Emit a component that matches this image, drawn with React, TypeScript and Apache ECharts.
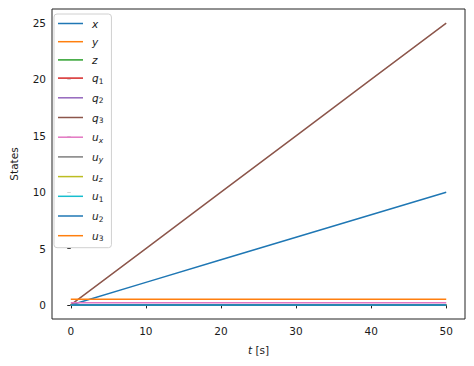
import React, { useEffect, useRef } from "react";
import * as echarts from "echarts";

const timeValues = [0, 10, 20, 30, 40, 50];
const seriesNames = ["x", "y", "z", "q1", "q2", "q3", "ux", "uy", "uz", "u1", "u2", "u3"];
const xValues = [0, 2, 4, 6, 8, 10];
const yValues = [0, 0, 0, 0, 0, 0];
const zValues = [0, 0, 0, 0, 0, 0];
const q1Values = [0, 0, 0, 0, 0, 0];
const q2Values = [0, 0, 0, 0, 0, 0];
const q3Values = [0, 5, 10, 15, 20, 25];
const uxValues = [0.2, 0.2, 0.2, 0.2, 0.2, 0.2];
const uyValues = [0, 0, 0, 0, 0, 0];
const uzValues = [0, 0, 0, 0, 0, 0];
const u1Values = [0, 0, 0, 0, 0, 0];
const u2Values = [0, 0, 0, 0, 0, 0];
const u3Values = [0.5, 0.5, 0.5, 0.5, 0.5, 0.5];
const xTicks = [0, 10, 20, 30, 40, 50];
const yTicks = [0, 5, 10, 15, 20, 25];

const allValues = [
  xValues, yValues, zValues, q1Values, q2Values, q3Values,
  uxValues, uyValues, uzValues, u1Values, u2Values, u3Values,
];
const colors = [
  "#1f77b4", "#ff7f0e", "#2ca02c", "#d62728", "#9467bd", "#8c564b",
  "#e377c2", "#7f7f7f", "#bcbd22", "#17becf", "#1f77b4", "#ff7f0e",
];

const FONT = "DejaVu Sans";
const TXT = "#1a1a1a";

export default function App() {
  const ref = useRef<HTMLDivElement>(null);
  useEffect(() => {
    if (!ref.current) return;
    const chart = echarts.init(ref.current, null, { renderer: "svg" });
    chart.setOption({
      animation: false,
      backgroundColor: "#fff",
      grid: {
        left: 48,
        right: 9,
        top: 9,
        bottom: 47,
        show: true,
        borderColor: "#222",
        borderWidth: 1,
        backgroundColor: "transparent",
      },
      legend: {
        orient: "vertical",
        left: 54,
        top: 14,
        padding: [4, 8, 5, 4],
        itemWidth: 25,
        itemHeight: 12,
        itemGap: 7.2,
        backgroundColor: "rgba(255,255,255,0.8)",
        borderColor: "#d0d0d0",
        borderWidth: 1,
        borderRadius: 3,
        icon: "path://M0,0L25,0L25,1.5L0,1.5Z",
        data: seriesNames.map((n, i) => ({ name: n, itemStyle: { color: colors[i] } })),
        formatter: (name: string) => {
          const main = name.charAt(0);
          const sub = name.slice(1);
          if (!sub) return `{m|${main}}`;
          return /\d/.test(sub) ? `{m|${main}}{d|${sub}}` : `{m|${main}}{s|${sub}}`;
        },
        textStyle: {
          padding: [0, 0, 0, 4],
          color: TXT,
          rich: {
            m: { fontFamily: FONT, fontStyle: "italic", fontSize: 10.5, color: TXT },
            s: { fontFamily: FONT, fontStyle: "italic", fontSize: 7.5, color: TXT, padding: [6, 0, 0, 0] },
            d: { fontFamily: FONT, fontSize: 7.5, color: TXT, padding: [6, 0, 0, 0] },
          },
        },
      },
      xAxis: {
        type: "value",
        min: -2.5,
        max: 52.5,
        name: "{i|t} [s]",
        nameLocation: "middle",
        nameGap: 25,
        nameTextStyle: {
          fontFamily: FONT,
          fontSize: 10.5,
          color: TXT,
          rich: { i: { fontFamily: FONT, fontStyle: "italic", fontSize: 10.5, color: TXT } },
        },
        splitLine: { show: false },
        axisLine: { show: false },
        axisTick: { show: true, customValues: xTicks, length: 3.5, lineStyle: { color: "#222" } },
        axisLabel: {
          customValues: xTicks,
          fontFamily: FONT,
          fontSize: 10.5,
          color: TXT,
          margin: 6,
        },
      },
      yAxis: {
        type: "value",
        min: -1.25,
        max: 26.25,
        name: "States",
        nameLocation: "middle",
        nameGap: 33,
        nameTextStyle: { fontFamily: FONT, fontSize: 10.5, color: TXT },
        splitLine: { show: false },
        axisLine: { show: false },
        axisTick: { show: true, customValues: yTicks, length: 3.5, lineStyle: { color: "#222" } },
        axisLabel: {
          customValues: yTicks,
          fontFamily: FONT,
          fontSize: 10.5,
          color: TXT,
          margin: 6,
        },
      },
      series: seriesNames.map((n, i) => ({
        name: n,
        type: "line",
        symbol: "none",
        color: colors[i],
        lineStyle: { width: 1.5, color: colors[i] },
        data: timeValues.map((t, k) => [t, allValues[i][k]]),
      })),
    });
    return () => chart.dispose();
  }, []);
  return <div ref={ref} style={{ width: 474, height: 366, position: "absolute", left: 0, top: 0 }} />;
}
